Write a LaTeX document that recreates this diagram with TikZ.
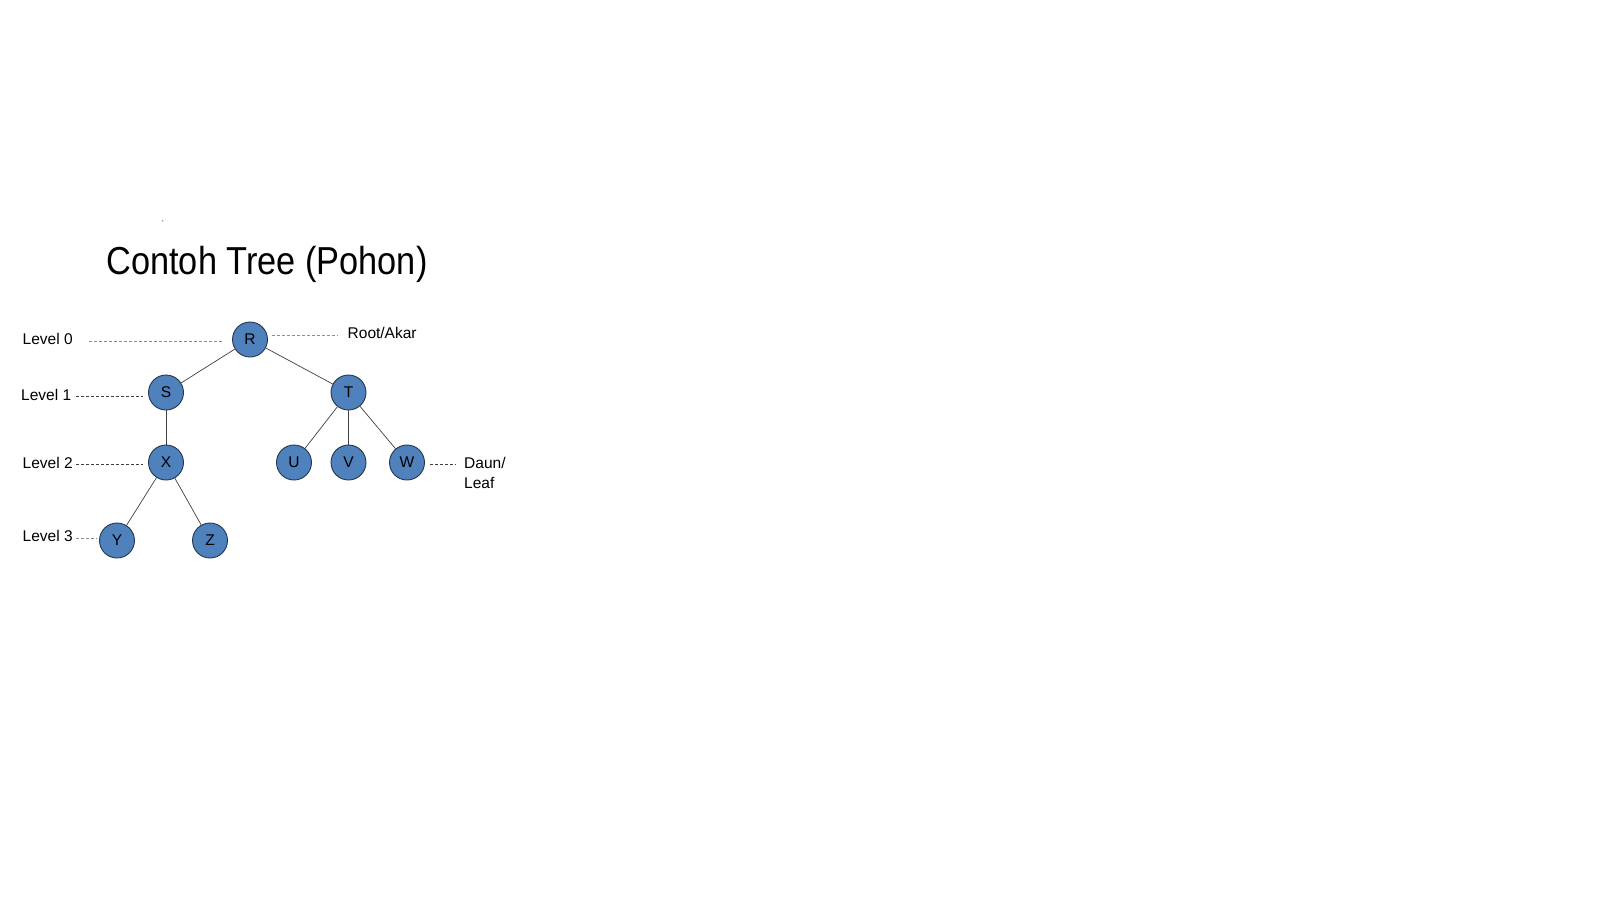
\documentclass[tikz,border=0pt]{standalone}
\usepackage{fontspec}
\setmainfont{Liberation Sans}
\usepackage{graphicx}
\definecolor{nodeblue}{HTML}{4F81BD}
\definecolor{nodeedge}{HTML}{24364F}
\definecolor{dashgray}{HTML}{8C8C8C}
\definecolor{dashdark}{HTML}{404040}
\tikzset{
	vertex/.style={circle, fill=nodeblue, draw=nodeedge, line width=0.9pt, minimum size=35pt, inner sep=0pt, font=\fontsize{15.5}{18}\selectfont},
	branch/.style={draw=black!75, line width=0.7pt},
	levellabel/.style={anchor=base west, inner sep=0pt, font=\fontsize{15.5}{18}\selectfont},
	guide/.style={dash pattern=on 3pt off 2pt, line width=0.8pt, draw=dashdark},
	guidelight/.style={guide, draw=dashgray}
}

\begin{document}
\begin{tikzpicture}[x=1pt, y=-1pt]
		%%%%% START %%%%%
		\useasboundingbox[fill=white] (0, 0) rectangle (1600, 900);
		
		\fill[black!45] (162.7, 220.7) circle (0.8);
		\node[anchor=base, inner sep=0pt] (title) at (267, 274.5) {\scalebox{0.88}[1]{\fontsize{39}{46}\selectfont Contoh Tree (Pohon)}};
		
		\node[vertex] (R) at (250, 339.5) {R};
		\node[vertex] (S) at (166, 392.5) {S};
		\node[vertex] (T) at (348.5, 392.5) {T};
		\node[vertex] (X) at (166, 462.5) {X};
		\node[vertex] (U) at (294, 462.5) {U};
		\node[vertex] (V) at (348.5, 462.5) {V};
		\node[vertex] (W) at (407, 462.5) {W};
		\node[vertex] (Y) at (117, 540.5) {Y};
		\node[vertex] (Z) at (210, 540.5) {Z};
		
		\foreach \a/\b in {R/S, R/T, S/X, X/Y, X/Z, T/U, T/V, T/W}
			\draw[branch] (\a) -- (\b);
		
		\node[levellabel] (lvl0) at (22.5, 344.8) {Level 0};
		\node[levellabel] (lvl1) at (21, 400.5) {Level 1};
		\node[levellabel] (lvl2) at (22.5, 468.2) {Level 2};
		\node[levellabel] (lvl3) at (22.5, 541.2) {Level 3};
		\node[levellabel] (root) at (347.5, 338.8) {Root/Akar};
		\node[levellabel] (daun) at (464, 468.8) {Daun/};
		\node[levellabel] (leaf) at (464, 488) {Leaf};
		
		\coordinate (g0a) at (89, 341);   \coordinate (g0b) at (222, 341);
		\coordinate (gra) at (272, 335);  \coordinate (grb) at (338, 335);
		\coordinate (g1a) at (76, 396);   \coordinate (g1b) at (143, 396);
		\coordinate (g2a) at (76, 464);   \coordinate (g2b) at (143, 464);
		\coordinate (g3a) at (76, 538);   \coordinate (g3b) at (97, 538);
		\coordinate (gda) at (430, 464);  \coordinate (gdb) at (456, 464);
		
		\draw[guidelight] (g0a) -- (g0b);
		\draw[guidelight] (gra) -- (grb);
		\draw[guide] (g1a) -- (g1b);
		\draw[guide] (g2a) -- (g2b);
		\draw[guidelight] (g3a) -- (g3b);
		\draw[guide] (gda) -- (gdb);
		%%%%% END %%%%%
	\end{tikzpicture}
\end{document}
